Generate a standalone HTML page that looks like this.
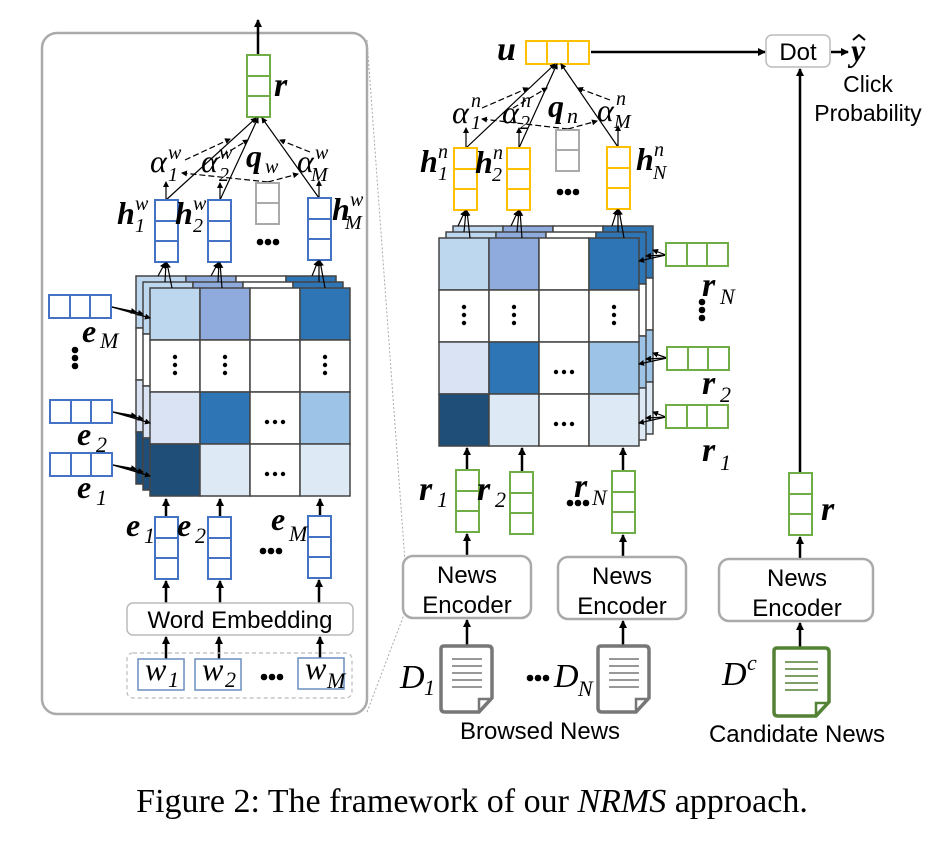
<!DOCTYPE html>
<html><head><meta charset="utf-8"><style>
body{margin:0;background:#fff}
svg{display:block}
.s{font-family:"Liberation Sans",sans-serif;fill:#000}
.m{font-family:"Liberation Serif",serif;font-style:italic;font-weight:bold;fill:#000}
.mi{font-family:"Liberation Serif",serif;font-style:italic;fill:#000}
</style></head><body>
<svg width="944" height="842" viewBox="0 0 944 842" xmlns="http://www.w3.org/2000/svg">
<defs>
<marker id="a" markerWidth="8" markerHeight="8" refX="7" refY="4" orient="auto" markerUnits="userSpaceOnUse"><path d="M0,0L8,4L0,8z" fill="#000"/></marker>
<marker id="as" markerWidth="6" markerHeight="6" refX="5" refY="3" orient="auto" markerUnits="userSpaceOnUse"><path d="M0,0L6,3L0,6z" fill="#000"/></marker>
<g id="vb"><rect x="0" y="0" width="23" height="62" fill="#fff" stroke="#4472c4" stroke-width="2"/><path d="M0,21H23M0,41H23" stroke="#4472c4" stroke-width="2"/></g>
<g id="vy"><rect x="0" y="0" width="23" height="62" fill="#fff" stroke="#ffc000" stroke-width="2"/><path d="M0,21H23M0,41H23" stroke="#ffc000" stroke-width="2"/></g>
<g id="vg"><rect x="0" y="0" width="23" height="62" fill="#fff" stroke="#70ad47" stroke-width="2"/><path d="M0,21H23M0,41H23" stroke="#70ad47" stroke-width="2"/></g>
<g id="hb"><rect x="0" y="0" width="62" height="23" fill="#fff" stroke="#4472c4" stroke-width="2"/><path d="M21,0V23M41,0V23" stroke="#4472c4" stroke-width="2"/></g>
<g id="hg"><rect x="0" y="0" width="62" height="23" fill="#fff" stroke="#70ad47" stroke-width="2"/><path d="M21,0V23M41,0V23" stroke="#70ad47" stroke-width="2"/></g>
<g id="qg"><rect x="0" y="0" width="23" height="41" fill="#fff" stroke="#aaa" stroke-width="2"/><path d="M0,20H23" stroke="#aaa" stroke-width="2"/></g>
<g id="mat" stroke="#444" stroke-width="1.5">
<rect x="0" y="0" width="50" height="52" fill="#bdd7ee"/><rect x="50" y="0" width="50" height="52" fill="#8faadc"/><rect x="100" y="0" width="50" height="52" fill="#fff"/><rect x="150" y="0" width="50" height="52" fill="#2e75b6"/>
<rect x="0" y="52" width="50" height="52" fill="#fff"/><rect x="50" y="52" width="50" height="52" fill="#fff"/><rect x="100" y="52" width="50" height="52" fill="#fff"/><rect x="150" y="52" width="50" height="52" fill="#fff"/>
<rect x="0" y="104" width="50" height="52" fill="#dae3f3"/><rect x="50" y="104" width="50" height="52" fill="#2e75b6"/><rect x="100" y="104" width="50" height="52" fill="#fff"/><rect x="150" y="104" width="50" height="52" fill="#9dc3e6"/>
<rect x="0" y="156" width="50" height="52" fill="#1f4e79"/><rect x="50" y="156" width="50" height="52" fill="#dde9f5"/><rect x="100" y="156" width="50" height="52" fill="#fff"/><rect x="150" y="156" width="50" height="52" fill="#dde9f5"/>
</g>
<g id="dots" fill="#000"><circle cx="25" cy="69" r="2.2"/><circle cx="25" cy="77" r="2.2"/><circle cx="25" cy="85" r="2.2"/><circle cx="75" cy="69" r="2.2"/><circle cx="75" cy="77" r="2.2"/><circle cx="75" cy="85" r="2.2"/><circle cx="175" cy="69" r="2.2"/><circle cx="175" cy="77" r="2.2"/><circle cx="175" cy="85" r="2.2"/>
<circle cx="117" cy="134" r="2.2"/><circle cx="125" cy="134" r="2.2"/><circle cx="133" cy="134" r="2.2"/><circle cx="117" cy="186" r="2.2"/><circle cx="125" cy="186" r="2.2"/><circle cx="133" cy="186" r="2.2"/></g>
<g id="doc"><path d="M3,0H47Q51,0 51,4V52L38,66H4Q0,66 0,62V3Q0,0 3,0Z" fill="#fff" stroke="#777" stroke-width="3.5"/><path d="M38,66V53H51" fill="none" stroke="#777" stroke-width="2.5"/><path d="M11,13H41M11,20H41M11,27H41M11,34H41M11,41H41" stroke="#777" stroke-width="1.5"/></g>
<g id="hdots"><circle cx="0" cy="0" r="3.3"/><circle cx="8" cy="0" r="3.3"/><circle cx="16" cy="0" r="3.3"/></g>
</defs>

<!-- Left panel -->
<rect x="42" y="33" width="325" height="681" rx="15" fill="none" stroke="#aaa" stroke-width="2.5"/>
<line x1="367" y1="40" x2="405" y2="562" stroke="#aaa" stroke-width="1" stroke-dasharray="2,2"/>
<line x1="367" y1="712" x2="405" y2="612" stroke="#aaa" stroke-width="1" stroke-dasharray="2,2"/>
<line x1="258" y1="55" x2="258" y2="20" stroke="#000" stroke-width="2.5" marker-end="url(#a)"/>
<use href="#vg" x="247" y="55"/>
<text class="m" x="274" y="96" font-size="34">r</text>

<g stroke="#000" stroke-width="1.2" fill="none">
<line x1="166" y1="200" x2="256" y2="118" marker-end="url(#as)"/>
<line x1="220" y1="200" x2="258" y2="118" marker-end="url(#as)"/>
<line x1="319" y1="198" x2="262" y2="118" marker-end="url(#as)"/>
<line x1="166" y1="200" x2="166" y2="182" marker-end="url(#as)"/>
<line x1="220" y1="200" x2="220" y2="183" marker-end="url(#as)"/>
<line x1="319" y1="198" x2="319" y2="181" marker-end="url(#as)"/>
<g stroke-dasharray="6,3">
<path d="M185,160L230,139" marker-end="url(#as)"/>
<path d="M215,160L248,140" marker-end="url(#as)"/>
<path d="M310,152L280,140" marker-end="url(#as)"/>
<path d="M268,182L182,173" marker-end="url(#as)"/>
<path d="M268,182L298,174" marker-end="url(#as)"/>
</g></g>
<text class="mi" x="150" y="172" font-size="32">α</text><text class="mi" x="168" y="159" font-size="20">w</text><text class="mi" x="168" y="181" font-size="20">1</text>
<text class="mi" x="201" y="172" font-size="32">α</text><text class="mi" x="219" y="159" font-size="20">w</text><text class="mi" x="219" y="181" font-size="20">2</text>
<text class="m" x="246" y="167" font-size="32">q</text><text class="mi" x="265" y="173" font-size="20">w</text>
<text class="mi" x="297" y="172" font-size="32">α</text><text class="mi" x="315" y="159" font-size="20">w</text><text class="mi" x="311" y="181" font-size="20">M</text>
<use href="#qg" x="256" y="183"/>
<use href="#hdots" x="260" y="242"/>
<use href="#vb" x="155" y="200"/><use href="#vb" x="208" y="200"/><use href="#vb" x="308" y="198"/>
<text class="m" x="117" y="224" font-size="32">h</text><text class="mi" x="135" y="210" font-size="20">w</text><text class="mi" x="135" y="232" font-size="20">1</text>
<text class="m" x="175" y="224" font-size="32">h</text><text class="mi" x="193" y="210" font-size="20">w</text><text class="mi" x="193" y="232" font-size="20">2</text>
<text class="m" x="332" y="220" font-size="32">h</text><text class="mi" x="350" y="206" font-size="20">w</text><text class="mi" x="345" y="229" font-size="20">M</text>

<use href="#mat" x="136" y="276"/><use href="#mat" x="143" y="282"/><use href="#mat" x="150" y="288"/>
<use href="#dots" x="150" y="288"/>
<g stroke="#000" stroke-width="1.2">
<line x1="158" y1="276" x2="165" y2="263" marker-end="url(#as)"/><line x1="165" y1="282" x2="166" y2="263" marker-end="url(#as)"/><line x1="172" y1="288" x2="167" y2="263" marker-end="url(#as)"/>
<line x1="211" y1="276" x2="218" y2="263" marker-end="url(#as)"/><line x1="218" y1="282" x2="219" y2="263" marker-end="url(#as)"/><line x1="222" y1="288" x2="220" y2="263" marker-end="url(#as)"/>
<line x1="312" y1="276" x2="318" y2="261" marker-end="url(#as)"/><line x1="319" y1="282" x2="319" y2="261" marker-end="url(#as)"/><line x1="325" y1="288" x2="320" y2="261" marker-end="url(#as)"/>
<line x1="112" y1="307" x2="136" y2="312" marker-end="url(#as)"/><line x1="112" y1="307" x2="143" y2="314" marker-end="url(#as)"/><line x1="112" y1="307" x2="150" y2="318" marker-end="url(#as)"/>
<line x1="113" y1="412" x2="136" y2="416" marker-end="url(#as)"/><line x1="113" y1="412" x2="143" y2="419" marker-end="url(#as)"/><line x1="113" y1="412" x2="150" y2="423" marker-end="url(#as)"/>
<line x1="113" y1="465" x2="136" y2="469" marker-end="url(#as)"/><line x1="113" y1="465" x2="143" y2="472" marker-end="url(#as)"/><line x1="113" y1="465" x2="150" y2="476" marker-end="url(#as)"/>
</g>
<use href="#hb" x="49" y="295"/><use href="#hb" x="50" y="400"/><use href="#hb" x="50" y="453"/>
<text class="m" x="82" y="342" font-size="32">e</text><text class="mi" x="100" y="348" font-size="22">M</text>
<circle cx="75" cy="350" r="3.3"/><circle cx="75" cy="358" r="3.3"/><circle cx="75" cy="366" r="3.3"/>
<text class="m" x="77" y="445" font-size="32">e</text><text class="mi" x="96" y="452" font-size="22">2</text>
<text class="m" x="77" y="498" font-size="32">e</text><text class="mi" x="96" y="505" font-size="22">1</text>

<g stroke="#000" stroke-width="2.5">
<line x1="166" y1="517" x2="166" y2="499" marker-end="url(#a)"/><line x1="220" y1="517" x2="220" y2="499" marker-end="url(#a)"/><line x1="320" y1="516" x2="320" y2="499" marker-end="url(#a)"/>
<line x1="166" y1="603" x2="166" y2="581" marker-end="url(#a)"/><line x1="220" y1="603" x2="220" y2="581" marker-end="url(#a)"/><line x1="319" y1="603" x2="319" y2="580" marker-end="url(#a)"/>
<line x1="166" y1="665" x2="166" y2="637" marker-end="url(#a)"/><line x1="219" y1="665" x2="219" y2="637" marker-end="url(#a)"/><line x1="320" y1="665" x2="320" y2="637" marker-end="url(#a)"/>
</g>
<use href="#vb" x="155" y="517"/><use href="#vb" x="208" y="517"/><use href="#vb" x="308" y="516"/>
<text class="m" x="126" y="536" font-size="32">e</text><text class="mi" x="144" y="543" font-size="22">1</text>
<text class="m" x="177" y="536" font-size="32">e</text><text class="mi" x="195" y="543" font-size="22">2</text>
<text class="m" x="271" y="530" font-size="32">e</text><text class="mi" x="289" y="541" font-size="22">M</text>
<use href="#hdots" x="263" y="551"/>
<rect x="127" y="603" width="226" height="32" rx="6" fill="#fff" stroke="#bbb" stroke-width="1.5"/>
<text class="s" x="240" y="628" font-size="24" text-anchor="middle">Word Embedding</text>
<rect x="127" y="653" width="225" height="45" rx="6" fill="none" stroke="#bbb" stroke-width="1.2" stroke-dasharray="4,3"/>
<rect x="138" y="659" width="46" height="31" fill="#fff" stroke="#6c8ebf" stroke-width="1.5"/>
<rect x="195" y="659" width="46" height="31" fill="#fff" stroke="#6c8ebf" stroke-width="1.5"/>
<rect x="298" y="658" width="46" height="31" fill="#fff" stroke="#6c8ebf" stroke-width="1.5"/>
<text class="mi" x="145" y="680" font-size="32">w</text><text class="mi" x="168" y="687" font-size="22">1</text>
<text class="mi" x="202" y="680" font-size="32">w</text><text class="mi" x="225" y="687" font-size="22">2</text>
<text class="mi" x="305" y="679" font-size="32">w</text><text class="mi" x="327" y="688" font-size="22">M</text>
<use href="#hdots" x="264" y="677"/>

<!-- Right user side -->
<text class="m" x="497" y="60" font-size="34">u</text>
<rect x="526" y="41" width="63" height="23" fill="#fff" stroke="#ffc000" stroke-width="2"/><path d="M547,41V64M568,41V64" stroke="#ffc000" stroke-width="2"/>
<line x1="591" y1="52" x2="765" y2="52" stroke="#000" stroke-width="2.5" marker-end="url(#a)"/>
<rect x="766" y="35" width="64" height="32" rx="6" fill="#fff" stroke="#bbb" stroke-width="1.5"/>
<text class="s" x="798" y="60" font-size="24" text-anchor="middle">Dot</text>
<line x1="831" y1="52" x2="848" y2="52" stroke="#000" stroke-width="2.5" marker-end="url(#a)"/>
<text class="m" x="851" y="61" font-size="32">y</text><path d="M853,40L859,35L865,40" fill="none" stroke="#000" stroke-width="2"/>
<text class="s" x="868" y="92" font-size="23" text-anchor="middle">Click</text>
<text class="s" x="868" y="121" font-size="23" text-anchor="middle">Probability</text>
<line x1="800" y1="472" x2="800" y2="69" stroke="#000" stroke-width="2.5" marker-end="url(#a)"/>

<g stroke="#000" stroke-width="1.2" fill="none">
<line x1="466" y1="148" x2="555" y2="64" marker-end="url(#as)"/>
<line x1="519" y1="148" x2="557" y2="64" marker-end="url(#as)"/>
<line x1="618" y1="147" x2="561" y2="64" marker-end="url(#as)"/>
<line x1="466" y1="148" x2="466" y2="128" marker-end="url(#as)"/>
<line x1="519" y1="148" x2="519" y2="128" marker-end="url(#as)"/>
<line x1="618" y1="147" x2="618" y2="126" marker-end="url(#as)"/>
<g stroke-dasharray="6,3">
<path d="M482,108L528,88" marker-end="url(#as)"/>
<path d="M513,108L547,88" marker-end="url(#as)"/>
<path d="M610,100L578,88" marker-end="url(#as)"/>
<path d="M568,129L482,119" marker-end="url(#as)"/>
<path d="M568,129L597,121" marker-end="url(#as)"/>
</g></g>
<text class="mi" x="452" y="123" font-size="32">α</text><text class="mi" x="471" y="107" font-size="20">n</text><text class="mi" x="471" y="129" font-size="20">1</text>
<text class="mi" x="502" y="123" font-size="32">α</text><text class="mi" x="521" y="107" font-size="20">n</text><text class="mi" x="520" y="129" font-size="20">2</text>
<text class="m" x="548" y="117" font-size="32">q</text><text class="mi" x="567" y="123" font-size="22">n</text>
<text class="mi" x="597" y="121" font-size="32">α</text><text class="mi" x="616" y="105" font-size="20">n</text><text class="mi" x="614" y="128" font-size="20">M</text>
<use href="#qg" x="556" y="130"/>
<use href="#hdots" x="560" y="192"/>
<use href="#vy" x="454" y="148"/><use href="#vy" x="507" y="148"/><use href="#vy" x="607" y="147"/>
<text class="m" x="420" y="172" font-size="32">h</text><text class="mi" x="438" y="158" font-size="20">n</text><text class="mi" x="438" y="180" font-size="20">1</text>
<text class="m" x="475" y="173" font-size="32">h</text><text class="mi" x="493" y="159" font-size="20">n</text><text class="mi" x="492" y="181" font-size="20">2</text>
<text class="m" x="636" y="170" font-size="32">h</text><text class="mi" x="654" y="156" font-size="20">n</text><text class="mi" x="653" y="179" font-size="20">N</text>

<use href="#mat" x="453" y="226"/><use href="#mat" x="446" y="232"/><use href="#mat" x="439" y="238"/>
<use href="#dots" x="439" y="238"/>
<g stroke="#000" stroke-width="1.2">
<line x1="458" y1="226" x2="465" y2="211" marker-end="url(#as)"/><line x1="464" y1="232" x2="466" y2="211" marker-end="url(#as)"/><line x1="470" y1="238" x2="467" y2="211" marker-end="url(#as)"/>
<line x1="511" y1="226" x2="518" y2="211" marker-end="url(#as)"/><line x1="517" y1="232" x2="519" y2="211" marker-end="url(#as)"/><line x1="522" y1="238" x2="520" y2="211" marker-end="url(#as)"/>
<line x1="612" y1="226" x2="617" y2="210" marker-end="url(#as)"/><line x1="618" y1="232" x2="618" y2="210" marker-end="url(#as)"/><line x1="624" y1="238" x2="619" y2="210" marker-end="url(#as)"/>
<line x1="666" y1="255" x2="653" y2="250" marker-end="url(#as)"/><line x1="666" y1="255" x2="646" y2="256" marker-end="url(#as)"/><line x1="666" y1="255" x2="639" y2="261" marker-end="url(#as)"/>
<line x1="667" y1="358" x2="653" y2="353" marker-end="url(#as)"/><line x1="667" y1="358" x2="646" y2="359" marker-end="url(#as)"/><line x1="667" y1="358" x2="639" y2="364" marker-end="url(#as)"/>
<line x1="666" y1="417" x2="653" y2="412" marker-end="url(#as)"/><line x1="666" y1="417" x2="646" y2="418" marker-end="url(#as)"/><line x1="666" y1="417" x2="639" y2="423" marker-end="url(#as)"/>
</g>
<use href="#hg" x="666" y="243"/><use href="#hg" x="667" y="347"/><use href="#hg" x="666" y="405"/>
<text class="m" x="702" y="296" font-size="34">r</text><text class="mi" x="720" y="304" font-size="22">N</text>
<circle cx="702" cy="302" r="3.3"/><circle cx="702" cy="310" r="3.3"/><circle cx="702" cy="318" r="3.3"/>
<text class="m" x="702" y="394" font-size="34">r</text><text class="mi" x="720" y="402" font-size="22">2</text>
<text class="m" x="702" y="461" font-size="34">r</text><text class="mi" x="720" y="470" font-size="22">1</text>

<g stroke="#000" stroke-width="2.5">
<line x1="467" y1="470" x2="467" y2="448" marker-end="url(#a)"/><line x1="522" y1="472" x2="522" y2="448" marker-end="url(#a)"/><line x1="623" y1="471" x2="623" y2="448" marker-end="url(#a)"/>
<line x1="467" y1="556" x2="467" y2="534" marker-end="url(#a)"/><line x1="623" y1="557" x2="623" y2="535" marker-end="url(#a)"/><line x1="800" y1="559" x2="800" y2="537" marker-end="url(#a)"/>
<line x1="467" y1="645" x2="467" y2="620" marker-end="url(#a)"/><line x1="623" y1="645" x2="623" y2="621" marker-end="url(#a)"/><line x1="800" y1="647" x2="800" y2="623" marker-end="url(#a)"/>
</g>
<use href="#vg" x="456" y="470"/><use href="#vg" x="510" y="472"/><use href="#vg" x="612" y="471"/><use href="#vg" x="789" y="473"/>
<text class="m" x="419" y="500" font-size="34">r</text><text class="mi" x="437" y="507" font-size="22">1</text>
<text class="m" x="477" y="500" font-size="34">r</text><text class="mi" x="495" y="507" font-size="22">2</text>
<text class="m" x="574" y="497" font-size="34">r</text><text class="mi" x="592" y="505" font-size="22">N</text>
<use href="#hdots" x="570" y="503"/>
<text class="m" x="821" y="520" font-size="34">r</text>

<rect x="403" y="556" width="128" height="62" rx="10" fill="#fff" stroke="#aaa" stroke-width="2.5"/>
<rect x="558" y="557" width="128" height="62" rx="10" fill="#fff" stroke="#aaa" stroke-width="2.5"/>
<rect x="719" y="559" width="154" height="62" rx="10" fill="#fff" stroke="#aaa" stroke-width="2.5"/>
<text class="s" x="467" y="583" font-size="24" text-anchor="middle">News</text><text class="s" x="467" y="613" font-size="24" text-anchor="middle">Encoder</text>
<text class="s" x="622" y="584" font-size="24" text-anchor="middle">News</text><text class="s" x="622" y="614" font-size="24" text-anchor="middle">Encoder</text>
<text class="s" x="797" y="586" font-size="24" text-anchor="middle">News</text><text class="s" x="797" y="616" font-size="24" text-anchor="middle">Encoder</text>

<use href="#doc" x="441" y="646"/><use href="#doc" x="598" y="646"/>
<g transform="translate(774,648)"><path d="M3,0H51Q55,0 55,4V54L42,68H4Q0,68 0,64V3Q0,0 3,0Z" fill="#fff" stroke="#538135" stroke-width="3.5"/><path d="M42,68V55H55" fill="none" stroke="#538135" stroke-width="2.5"/><path d="M11,14H44M11,21H44M11,28H44M11,35H44M11,42H44" stroke="#538135" stroke-width="1.5"/></g>
<text class="mi" x="400" y="688" font-size="34">D</text><text class="mi" x="424" y="695" font-size="22">1</text>
<text class="mi" x="554" y="687" font-size="34">D</text><text class="mi" x="578" y="696" font-size="22">N</text>
<use href="#hdots" x="530" y="678"/>
<text class="mi" x="722" y="685" font-size="34">D</text><text class="mi" x="747" y="670" font-size="22">c</text>
<text class="s" x="540" y="739" font-size="24" text-anchor="middle">Browsed News</text>
<text class="s" x="797" y="742" font-size="24" text-anchor="middle">Candidate News</text>

<text x="472" y="812" font-size="34" text-anchor="middle" font-family="Liberation Serif, serif">Figure 2: The framework of our <tspan font-style="italic">NRMS</tspan> approach.</text>
</svg>
</body></html>
